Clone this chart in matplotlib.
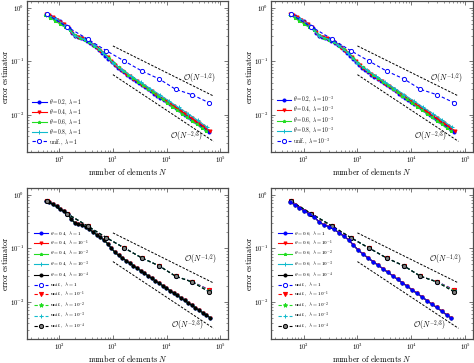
import math
import matplotlib
matplotlib.use('Agg')
import matplotlib.pyplot as plt
from matplotlib.ticker import LogLocator, FuncFormatter, NullFormatter

plt.rcParams['mathtext.fontset'] = 'cm'
plt.rcParams['font.family'] = 'serif'
plt.rcParams['font.serif'] = ['DejaVu Serif']

# adaptive runs, theta = 0.2 (dense)
N_a02 = [59, 68, 78, 89, 101, 115, 131, 150, 171, 195, 222, 253, 289, 330, 376, 429,
         489, 558, 636, 725, 827, 943, 1075, 1226, 1398, 1594, 1818, 2073, 2364, 2696,
         3074, 3506, 3998, 4559, 5199, 5929, 6761, 7710, 8793, 10028, 11435, 13040,
         14871, 16959, 19340, 22055, 25151, 28682, 32709, 37302, 42540, 48513, 55325, 63094]
e_a02 = [0.76, 0.72, 0.66, 0.61, 0.56, 0.51, 0.47, 0.43, 0.34, 0.30, 0.285, 0.275, 0.262,
         0.242, 0.222, 0.200, 0.183, 0.163, 0.146, 0.128, 0.112, 0.096, 0.085, 0.0755,
         0.068, 0.062, 0.0566, 0.0517, 0.0472, 0.0431, 0.0394, 0.0360, 0.0329, 0.0300,
         0.0274, 0.0250, 0.0228, 0.0208, 0.0190, 0.0174, 0.0159, 0.0145, 0.0132, 0.0121,
         0.0110, 0.0101, 0.0092, 0.0084, 0.0077, 0.0070, 0.0064, 0.0058, 0.0053, 0.0048]

# theta = 0.4
N_a04 = [56, 65, 76, 89, 104, 122, 143, 167, 195, 228, 267, 312, 365, 427, 500, 585, 684,
         800, 936, 1095, 1281, 1499, 1754, 2052, 2401, 2809, 3287, 3845, 4499, 5264, 6159,
         7206, 8431, 9864, 11541, 13503, 15798, 18484, 21626, 25303, 29604, 34637, 40525,
         47414, 55475, 64906]
e_a04 = [0.77, 0.73, 0.67, 0.61, 0.55, 0.50, 0.445, 0.35, 0.30, 0.283, 0.27, 0.252, 0.228,
         0.20, 0.18, 0.16, 0.142, 0.122, 0.100, 0.084, 0.074, 0.066, 0.059, 0.053, 0.0475,
         0.0425, 0.0382, 0.0343, 0.0306, 0.0275, 0.0248, 0.0223, 0.0200, 0.0180, 0.0162,
         0.0146, 0.0131, 0.0118, 0.0106, 0.0095, 0.0086, 0.0077, 0.0069, 0.0062, 0.0056,
         0.0050]

# theta = 0.6
N_a06 = [55, 68, 84, 104, 128, 158, 195, 240, 296, 365, 450, 555, 684, 843, 1040, 1282,
         1580, 1948, 2402, 2961, 3651, 4501, 5549, 6841, 8434, 10398, 12820, 15805,
         19486, 24024, 29618, 36515, 45018, 55500]
e_a06 = [0.75, 0.66, 0.57, 0.50, 0.44, 0.39, 0.31, 0.275, 0.255, 0.228, 0.198, 0.17,
         0.145, 0.115, 0.092, 0.0775, 0.0658, 0.0565, 0.0485, 0.0416, 0.0357, 0.0307,
         0.0263, 0.0226, 0.0194, 0.0166, 0.0143, 0.0123, 0.0105, 0.0090, 0.0078, 0.0067,
         0.0057, 0.0049]

# theta = 0.8
N_a08 = [57, 86, 129, 194, 291, 437, 655, 983, 1475, 2212, 3318, 4977, 7466, 11199,
         16798, 25197, 37796, 56694]
e_a08 = [0.755, 0.63, 0.47, 0.30, 0.26, 0.205, 0.145, 0.095, 0.069, 0.053, 0.0405, 0.031,
         0.0237, 0.0180, 0.0137, 0.0105, 0.0079, 0.0059]

# uniform refinement
N_unif = [59, 139, 342, 750, 1623, 3480, 7270, 14800, 30300, 63000]
e_unif_1 = [0.76, 0.447, 0.26, 0.159, 0.102, 0.066, 0.047, 0.030, 0.0237, 0.0167]
e_unif_1e1 = [0.76, 0.447, 0.26, 0.159, 0.102, 0.066, 0.047, 0.030, 0.0236, 0.0163]
e_unif_1e2 = [0.76, 0.447, 0.26, 0.159, 0.102, 0.066, 0.047, 0.030, 0.0235, 0.0158]
e_unif_1e3 = [0.76, 0.447, 0.26, 0.159, 0.102, 0.066, 0.047, 0.030, 0.0234, 0.0155]
e_unif_1e4 = [0.76, 0.447, 0.26, 0.159, 0.102, 0.066, 0.047, 0.030, 0.0233, 0.0151]

# reference slopes
N_ref = [1e3, 7.5e4]
ref_half = [0.195, 0.0225]
ref_twothirds = [0.0565, 0.00318]

lam_labels = ['1', '10^{-1}', '10^{-2}', '10^{-3}', '10^{-4}']
colors = ['#0000ff', '#ff0000', '#22dd22', '#11bbcc', '#000000']
markers = ['o', 'v', '*', '+', 'o']

fig = plt.figure(figsize=(4.74, 3.63), dpi=100)
rects = [[0.057, 0.581, 0.424, 0.416], [0.572, 0.581, 0.426, 0.416],
         [0.057, 0.066, 0.424, 0.416], [0.572, 0.066, 0.426, 0.416]]
axs = [fig.add_axes(r) for r in rects]


def decorate(ax, half_pos, tt_pos):
    ax.set_xscale('log')
    ax.set_yscale('log')
    ax.set_xlim(25, 1.4e5)
    ax.set_ylim(2.0e-3, 1.35)
    ax.plot(N_ref, ref_half, color='k', ls=(0, (2.5, 1.5)), lw=0.7, zorder=1)
    ax.plot(N_ref, ref_twothirds, color='k', ls=(0, (2.5, 1.5)), lw=0.7, zorder=1)
    ax.text(half_pos[0], half_pos[1], r'$\mathcal{O}(N^{-1/2})$', fontsize=5.5,
            ha='center', va='center')
    ax.text(tt_pos[0], tt_pos[1], r'$\mathcal{O}(N^{-2/3})$', fontsize=5.5,
            ha='center', va='center')
    ax.xaxis.set_major_locator(LogLocator(base=10, numticks=10))
    ax.yaxis.set_major_locator(LogLocator(base=10, numticks=10))
    ax.xaxis.set_minor_locator(LogLocator(base=10, subs=range(2, 10), numticks=20))
    ax.yaxis.set_minor_locator(LogLocator(base=10, subs=range(2, 10), numticks=20))
    fmt = FuncFormatter(lambda v, p: r'$10^{%d}$' % round(math.log10(v)))
    ax.xaxis.set_major_formatter(fmt)
    ax.yaxis.set_major_formatter(fmt)
    ax.xaxis.set_minor_formatter(NullFormatter())
    ax.yaxis.set_minor_formatter(NullFormatter())
    ax.tick_params(which='both', direction='in', top=True, right=True,
                   labelsize=4.8, color='0.25', pad=2)
    ax.tick_params(which='major', length=3, width=0.5)
    ax.tick_params(which='minor', length=1.5, width=0.4)
    for s in ax.spines.values():
        s.set_color('0.3')
        s.set_linewidth(0.9)
    ax.set_xlabel(r'$\mathrm{number\ of\ elements}\ N$', fontsize=5.8)
    ax.set_ylabel(r'$\mathrm{error\ estimator}$', fontsize=5.8)
    ax.xaxis.set_label_coords(0.5, -0.09)
    ax.yaxis.set_label_coords(-0.085, 0.5)


# top panels: different theta, fixed lambda
thetas = ['0.2', '0.4', '0.6', '0.8']
adapt = [(N_a02, e_a02), (N_a04, e_a04), (N_a06, e_a06), (N_a08, e_a08)]
for ax, lam in [(axs[0], '1'), (axs[1], '10^{-3}')]:
    for k in range(4):
        ax.plot(adapt[k][0], adapt[k][1], color=colors[k], marker=markers[k], ms=2.2,
                lw=0.8, mew=0.7, label=r'$\theta = %s,\ \lambda = %s$' % (thetas[k], lam))
    ax.plot(N_unif, e_unif_1, color=colors[0], ls=(0, (3, 2)), marker='o', ms=3,
            mfc='white', mew=0.7, lw=0.8, label=r'$\mathrm{unif.},\ \lambda = %s$' % lam)
    ax.legend(loc='lower left', fontsize=3.9, frameon=False, handlelength=2.6,
              labelspacing=0.05, borderaxespad=0.6, handletextpad=0.4)

decorate(axs[0], (4.2e4, 0.046), (2.4e4, 0.0038))
decorate(axs[1], (4.5e4, 0.047), (2.3e4, 0.0038))

# bottom panels: fixed theta, different lambda
unif_lists = [e_unif_1, e_unif_1e1, e_unif_1e2, e_unif_1e3, e_unif_1e4]
for ax, th, (Na, ea) in [(axs[2], '0.4', (N_a04, e_a04)), (axs[3], '0.6', (N_a06, e_a06))]:
    for k in range(5):
        z = 3 + k if ax is axs[2] else 8 - k
        ax.plot(Na, ea, color=colors[k], marker=markers[k], ms=2.2, lw=0.8, mew=0.7,
                zorder=z, label=r'$\theta = %s,\ \lambda = %s$' % (th, lam_labels[k]))
    for k in range(5):
        mfc = 'white' if k == 0 else ('0.5' if k == 4 else colors[k])
        ax.plot(N_unif, unif_lists[k], color=colors[k], ls=(0, (3, 2)), marker=markers[k],
                ms=3, mfc=mfc, mew=0.7, lw=0.8, zorder=3 + k,
                label=r'$\mathrm{unif.},\ \lambda = %s$' % lam_labels[k])
    ax.legend(loc='lower left', fontsize=3.7, frameon=False, handlelength=2.7,
              labelspacing=0.0, borderaxespad=1.0, handletextpad=0.4)

decorate(axs[2], (4.4e4, 0.06), (2.5e4, 0.0035))
decorate(axs[3], (4.4e4, 0.06), (2.2e4, 0.0035))

fig.savefig('out.png', dpi=100)
